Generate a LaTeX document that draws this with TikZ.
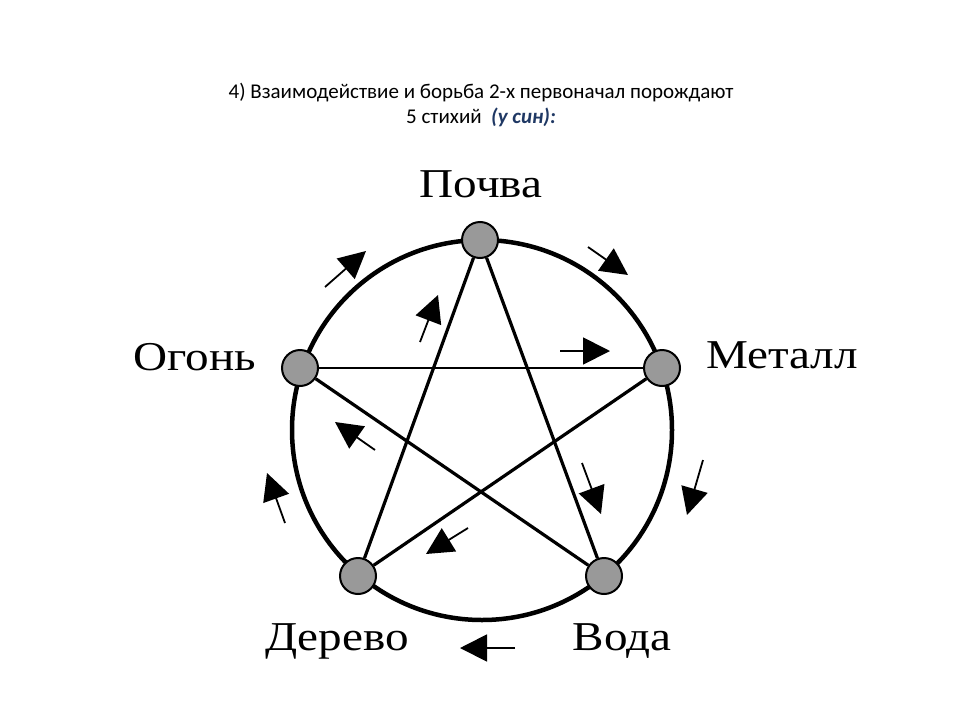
\documentclass[tikz,border=0pt]{standalone}
\usepackage{fontspec}
\setmainfont{Carlito}
\newfontfamily\labelfont[FakeStretch=1.15]{Liberation Serif}
\usetikzlibrary{arrows.meta,backgrounds}
\definecolor{titleblue}{RGB}{31,56,100}

\begin{document}
\begin{tikzpicture}[x=1pt, y=-1pt,
    elem/.style={circle, draw=black, fill=gray!80, line width=2pt, minimum size=36pt, inner sep=0pt},
    elemlabel/.style={font=\labelfont\fontsize{41}{45}\selectfont},
    flow/.style={draw=black, line width=1.8pt, -{Triangle[length=27pt, width=27pt]}}]
    \useasboundingbox (0,0) rectangle (960,720);

    % title
    \node[font=\fontsize{21}{25}\selectfont, align=center] (title) at (481,105)
        {4) Взаимодействие и борьба 2-х первоначал порождают\\
         5 стихий\ \ {\bfseries\itshape\color{titleblue}(у син):}};

    % elements
    \node[elem] (pochva) at (480,240) {};
    \node[elem] (ogon) at (300,368) {};
    \node[elem] (metall) at (662,368) {};
    \node[elem] (derevo) at (358,576) {};
    \node[elem] (voda) at (604,576) {};

    % ring and star, under the elements
    \begin{scope}[on background layer]
    \draw[draw=black, line width=4.5pt] (482,430) circle (190);
    \draw[draw=black, line width=3.2pt] (pochva) -- (derevo);
    \draw[draw=black, line width=3.2pt] (pochva) -- (voda);
    \draw[draw=black, line width=3.2pt] (ogon) -- (voda);
    \draw[draw=black, line width=3.2pt] (metall) -- (derevo);
    \draw[draw=black, line width=2.4pt] (ogon) -- (metall);
    \end{scope}

    % labels
    \node[elemlabel] (pochvalabel) at (481,184) {Почва};
    \node[elemlabel] (ogonlabel) at (195,357) {Огонь};
    \node[elemlabel] (metalllabel) at (782,355) {Металл};
    \node[elemlabel] (derevolabel) at (337,641) {Дерево};
    \node[elemlabel] (vodalabel) at (622,641) {Вода};

    % generating cycle, along the ring
    \draw[flow] (325,287) -- (366,251);
    \draw[flow] (588,247) -- (628,275);
    \draw[flow] (703,460) -- (687,515);
    \draw[flow] (515,648) -- (460,648);
    \draw[flow] (285,523) -- (267,473);

    % overcoming cycle, along the star
    \draw[flow] (420,342) -- (438,295);
    \draw[flow] (560,351) -- (610,351);
    \draw[flow] (582,463) -- (601,514);
    \draw[flow] (468,528) -- (426,554);
    \draw[flow] (375,450) -- (335,422);
\end{tikzpicture}
\end{document}
